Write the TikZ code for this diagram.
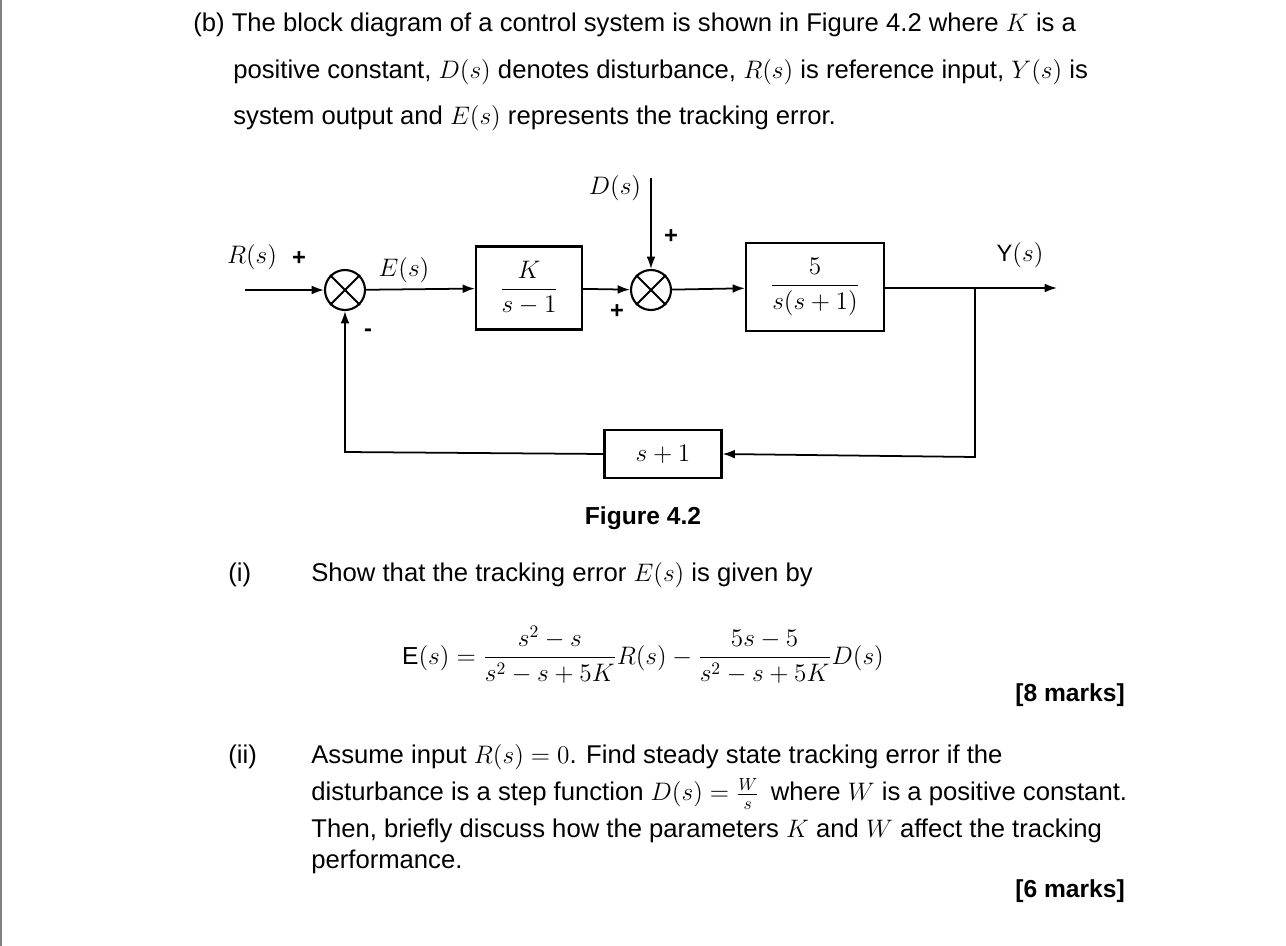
\documentclass[tikz,border=0pt]{standalone}
\usepackage{amsmath}
\usepackage{fontspec}
\setmainfont{Liberation Sans}
\usetikzlibrary{arrows.meta}
\begin{document}
\begin{tikzpicture}[x=0.02cm,y=-0.02cm,
  txt/.style={anchor=west,inner sep=0pt,font=\fontsize{14.6}{17}\selectfont},
  blk/.style={draw,line width=1.2pt,inner sep=0pt},
  sum/.style={draw,line width=1.2pt,circle,minimum size=0.8cm,inner sep=0pt},
  sig/.style={line width=1pt,-{Latex[length=7pt,width=5pt]}},
  lab/.style={font=\fontsize{13.5}{15}\selectfont,inner sep=1pt},
  every node/.append style={font=\fontsize{14}{16}\selectfont}]
\useasboundingbox (0,0) rectangle (1286,946);
\draw[gray,line width=0.6pt] (1,0) -- (1,946);
% question text
\node[txt] (l1) at (193,25) {(b) The block diagram of a control system is shown in Figure 4.2 where $K$ is a};
\node[txt] (l2) at (233,72) {positive constant, $D(s)$ denotes disturbance, $R(s)$ is reference input, $Y(s)$ is};
\node[txt] (l3) at (233,118) {system output and $E(s)$ represents the tracking error.};
% diagram
\node[sum] (s1) at (345,290) {};
\draw[line width=1.2pt] (s1.north west) -- (s1.south east) (s1.north east) -- (s1.south west);
\node[sum] (s2) at (651,290) {};
\draw[line width=1.2pt] (s2.north west) -- (s2.south east) (s2.north east) -- (s2.south west);
\node[blk,minimum width=2.12cm,minimum height=1.66cm] (g1) at (529,288) {$\dfrac{K}{s-1}$};
\node[blk,minimum width=2.76cm,minimum height=1.76cm] (g2) at (815,287) {$\dfrac{5}{s(s+1)}$};
\node[blk,minimum width=2.34cm,minimum height=0.96cm] (h) at (663,454) {$s+1$};
\coordinate (rin) at (245,290);
\coordinate (din) at (651,178);
\coordinate (yout) at (1057,288);
\coordinate (br) at (975,288);
\coordinate (bb) at (975,457);
\coordinate (fb) at (345,452);
\draw[sig] (rin) -- (s1);
\draw[sig] (din) -- (s2);
\draw[sig] (s1) -- (g1);
\draw[sig] (g1) -- (s2);
\draw[sig] (s2) -- (g2);
\draw[sig] (g2.east|-yout) -- (yout);
\draw[sig] (br) -- (bb) -- (h.east);
\draw[sig] (h.west) -- (fb) -- (s1);
\node[lab] (rl) at (252,257) {$R(s)$};
\node[lab] (pl1) at (299,259) {\textbf{+}};
\node[lab] (ml1) at (368,333) {\textbf{-}};
\node[lab] (el) at (404,270) {$E(s)$};
\node[lab] (dl) at (615,188) {$D(s)$};
\node[lab] (pl2) at (671,237) {\textbf{+}};
\node[lab] (pl3) at (617,312) {\textbf{+}};
\node[lab] (yl) at (1020,255) {Y$(s)$};
\node[font=\bfseries\fontsize{14}{16}\selectfont] (fig) at (643,518) {Figure 4.2};
% part (i)
\node[txt] (i1) at (228,575) {(i)};
\node[txt] (i2) at (311,575) {Show that the tracking error $E(s)$ is given by};
\node (eq) at (643,655) {$\mathrm{E}(s)=\dfrac{s^2-s}{s^2-s+5K}R(s)-\dfrac{5s-5}{s^2-s+5K}D(s)$};
\node[anchor=east,font=\bfseries\fontsize{14}{16}\selectfont] (m1) at (1131,695) {[8 marks]};
% part (ii)
\node[txt] (ii1) at (228,757) {(ii)};
\node[txt] (ii2) at (311,757) {Assume input $R(s)=0$. Find steady state tracking error if the};
\node[txt] (ii3) at (311,794) {disturbance is a step function $D(s)=\frac{W}{s}$\, where $W$ is a positive constant.};
\node[txt] (ii4) at (311,831) {Then, briefly discuss how the parameters $K$ and $W$ affect the tracking};
\node[txt] (ii5) at (311,862) {performance.};
\node[anchor=east,font=\bfseries\fontsize{14}{16}\selectfont] (m2) at (1131,891) {[6 marks]};
\end{tikzpicture}
\end{document}
